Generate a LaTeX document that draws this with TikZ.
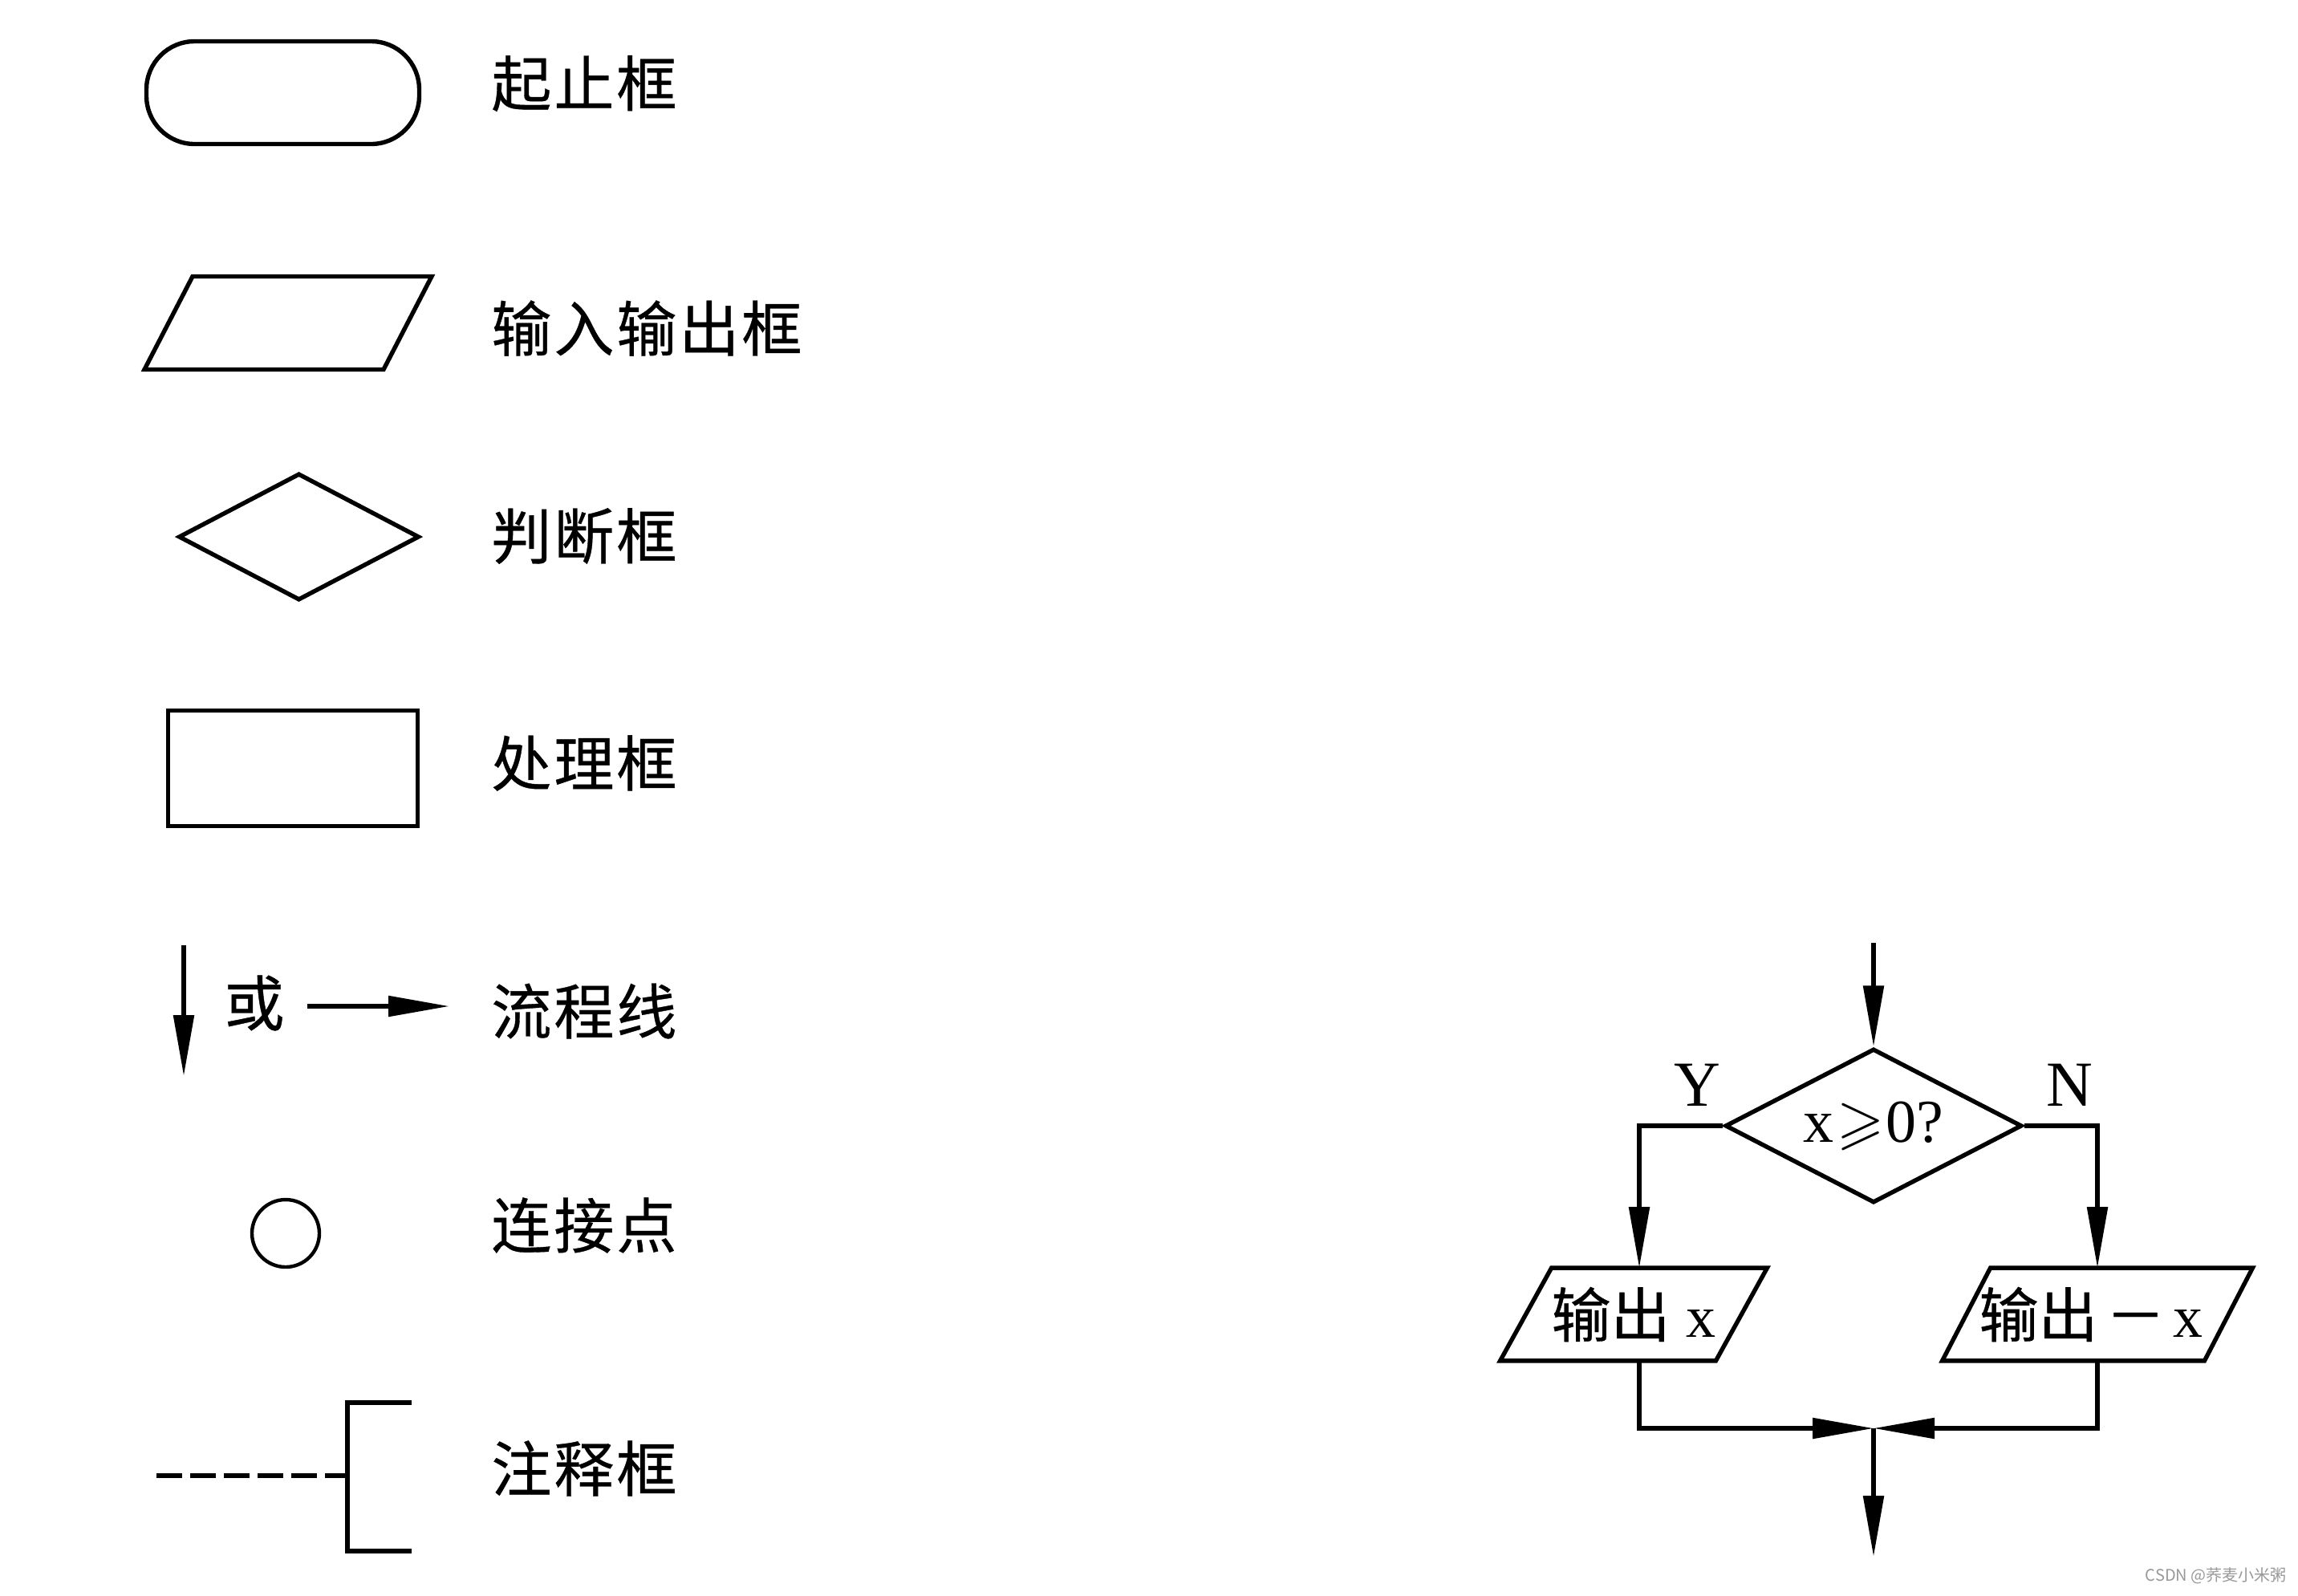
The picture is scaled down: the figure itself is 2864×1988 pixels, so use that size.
\documentclass[tikz,border=0pt]{standalone}
\usepackage{fontspec}
\usepackage{amssymb}
\setmainfont{Liberation Serif}
\newfontfamily\cjk{Noto Sans CJK SC}[FakeBold=0.5]
\newfontfamily\cjkwide{Noto Sans CJK SC}[FakeBold=0.5,LetterSpace=4]
\newfontfamily\cjkmark{Noto Sans CJK SC}
\usetikzlibrary{shapes.geometric,arrows.meta}

\begin{document}
\begin{tikzpicture}[x=0.5pt,y=-0.5pt,
  lw/.style={line width=2.7pt},
  legendlabel/.style={anchor=west,inner sep=0pt,font=\cjkwide\fontsize{37.5pt}{40pt}\selectfont},
  arr/.style={lw,-{Triangle[length=38pt,width=12.5pt]}},
  parabox/.style={rectangle,inner sep=0pt,minimum height=57.5pt},
  flowtext/.style={font=\fontsize{37pt}{39pt}\selectfont},
  yn/.style={font=\fontsize{40pt}{42pt}\selectfont,inner sep=0pt}
]
\fill[white] (0,0) rectangle (2864,1988);
\useasboundingbox (0,0) rectangle (2864,1988);

% ---------- legend ----------
\node[lw,draw,rectangle,rounded corners=30pt,minimum width=170pt,minimum height=64pt] (term) at (352.5,115.5) {};
\coordinate (io1) at (180,460.5);
\coordinate (io2) at (240,344.5);
\coordinate (io3) at (538,344.5);
\coordinate (io4) at (478,460.5);
\draw[lw] (io1) -- (io2) -- (io3) -- (io4) -- cycle;
\node[lw,draw,diamond,minimum width=150pt,minimum height=79pt,inner sep=0pt] (dec) at (372.5,669) {};
\node[lw,draw,rectangle,minimum width=155.5pt,minimum height=72pt] (proc) at (365,957.5) {};

\coordinate (fa1) at (229,1178);
\coordinate (fa2) at (229,1341);
\draw[arr] (fa1) -- (fa2);
\node[legendlabel,anchor=center] (huo) at (317,1250) {或};
\coordinate (fb1) at (383,1254);
\coordinate (fb2) at (560,1254);
\draw[arr] (fb1) -- (fb2);

\node[draw,line width=2.2pt,circle,minimum size=42pt,inner sep=0pt] (conn) at (356,1537) {};

\coordinate (nt) at (513,1748);
\coordinate (nb) at (513,1933);
\coordinate (nl) at (195,1839);
\coordinate (nm) at (433,1839);
\draw[line width=3pt] (nt) -| (nm) |- (nb);
\draw[line width=3pt,dash pattern=on 16pt off 5pt] (nl) -- (nm);

\node[legendlabel] (l1) at (612,104) {起止框};
\node[legendlabel] (l2) at (612,409) {输入输出框};
\node[legendlabel] (l3) at (612,668) {判断框};
\node[legendlabel] (l4) at (612,951) {处理框};
\node[legendlabel] (l5) at (612,1260) {流程线};
\node[legendlabel] (l6) at (612,1527) {连接点};
\node[legendlabel] (l7) at (612,1830) {注释框};

% ---------- flowchart ----------
\coordinate (fin) at (2335,1175);
\node[lw,draw,diamond,aspect=2,minimum width=185pt,minimum height=96pt,inner sep=0pt,
      font=\fontsize{38pt}{40pt}\selectfont] (fdec) at (2335,1403) {x\kern2pt$\geqslant$\kern1pt0?};
\node[yn] (ylab) at (2115,1352) {Y};
\node[yn] (nlab) at (2579,1352) {N};

\node[parabox,flowtext,minimum width=134pt] (pl) at (2036,1638) {{\cjk 输出}\hspace{10pt}x};
\draw[lw] ([xshift=16pt]pl.north west) -- ([xshift=16pt]pl.north east)
  -- ([xshift=-16pt]pl.south east) -- ([xshift=-16pt]pl.south west) -- cycle;
\node[parabox,flowtext,minimum width=163pt] (pr) at (2614,1638) {\hspace*{-8pt}{\cjk 输出}\hspace{5pt}{\cjk －}\hspace{5pt}x};
\draw[lw] ([xshift=15pt]pr.north west) -- ([xshift=15pt]pr.north east)
  -- ([xshift=-15pt]pr.south east) -- ([xshift=-15pt]pr.south west) -- cycle;

\coordinate (ylx) at (2043,1405);
\coordinate (mid) at (2335,1780);
\coordinate (fout) at (2335,1940);

\draw[arr] (fin) -- (fdec.north);
\draw[arr] (fdec.west) -| (ylx |- pl.north);
\draw[arr] (fdec.east) -| (pr.north);
\draw[arr] (ylx |- pl.south) |- (mid);
\draw[arr] (pr.south) |- (mid);
\draw[arr] (mid) -- (fout);

\node[anchor=east,inner sep=0pt,text=black!40,font=\cjkmark\fontsize{10pt}{12pt}\selectfont] (wm) at (2850,1964) {CSDN @荞麦小米粥};
\end{tikzpicture}
\end{document}
